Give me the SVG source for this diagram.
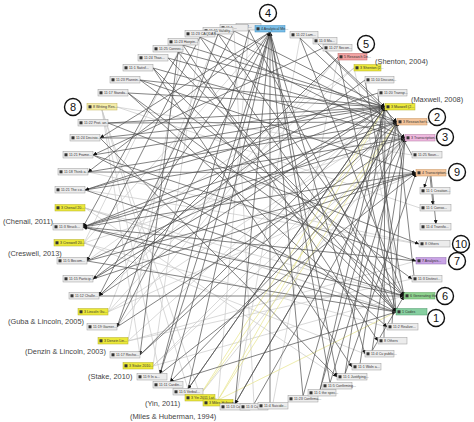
<svg xmlns="http://www.w3.org/2000/svg" width="474" height="422" viewBox="0 0 474 422">
<style>
.nb{fill:#ececec;stroke:#9a9a9a;stroke-width:.5}
.yl{fill:#ebe83a;stroke:#b3ae2a}
.yp{fill:#f4eca8;stroke:#c4b45a}
.bl{fill:#7bbfe8;stroke:#3a8cc0}
.gr{fill:#8ed28e;stroke:#5a9a5a}
.gr2{fill:#86cfa0;stroke:#4f9a6c}
.rd{fill:#f2a3a3;stroke:#c06060}
.pc{fill:#f4c59c;stroke:#c8925e}
.pk{fill:#efb8df;stroke:#b07aa0}
.pu{fill:#caa4e6;stroke:#8f6fb0}
.ic{fill:#333}
.nt{font-family:"Liberation Sans",Arial,sans-serif;font-size:3.6px;fill:#333}
.ann{font-family:"Liberation Sans",Arial,sans-serif;font-size:7.4px;fill:#444}
.cn circle{fill:#fff;stroke:#111;stroke-width:1.4}
.cn text{font-family:"Liberation Sans",Arial,sans-serif;font-size:11px;text-anchor:middle;fill:#111}
.e line{stroke:#4d4d4d;stroke-width:.7}
.l line{stroke:#c9c9c9;stroke-width:.7}
.ly line{stroke:#e6e48a;stroke-width:.7}
</style>
<defs>
<marker id="ah" markerUnits="userSpaceOnUse" markerWidth="4" markerHeight="4" refX="4" refY="2" orient="auto">
<path d="M0,0 L4,2 L0,4 z" fill="#111"/>
</marker>
</defs>
<rect width="474" height="422" fill="#fff"/>
<g id="connectors">
<g class="l">
<line x1="102" y1="110" x2="188" y2="389"/><line x1="102" y1="110" x2="200" y2="395"/><line x1="102" y1="110" x2="160" y2="374"/><line x1="102" y1="110" x2="140" y2="355"/>
<line x1="85" y1="208" x2="404" y2="296"/><line x1="85" y1="208" x2="396" y2="312"/><line x1="84" y1="243" x2="405" y2="138"/><line x1="84" y1="243" x2="387" y2="327"/>
<line x1="108" y1="312" x2="416" y2="173"/><line x1="108" y1="312" x2="397" y2="122"/><line x1="128" y1="341" x2="385" y2="107"/><line x1="128" y1="341" x2="412" y2="279"/>
<line x1="153" y1="366" x2="404" y2="296"/><line x1="153" y1="366" x2="405" y2="138"/><line x1="354" y1="68" x2="87" y2="261"/><line x1="354" y1="68" x2="99" y2="296"/>
<line x1="338" y1="57" x2="117" y2="327"/><line x1="338" y1="57" x2="108" y2="312"/><line x1="270" y1="32" x2="84" y2="243"/><line x1="183" y1="45" x2="128" y2="341"/>
<line x1="200" y1="37" x2="153" y2="366"/><line x1="218" y1="34" x2="108" y2="312"/><line x1="178" y1="52" x2="84" y2="243"/><line x1="396" y1="312" x2="85" y2="208"/>
<line x1="419" y1="244" x2="85" y2="190"/><line x1="416" y1="261" x2="128" y2="341"/><line x1="385" y1="107" x2="93" y2="279"/><line x1="397" y1="122" x2="153" y2="366"/>
<line x1="405" y1="138" x2="200" y2="395"/><line x1="249" y1="30" x2="218" y2="400"/><line x1="234" y1="31" x2="254" y2="404"/><line x1="354" y1="68" x2="404" y2="296"/>
<line x1="338" y1="57" x2="273" y2="403"/><line x1="300" y1="38" x2="235" y2="404"/><line x1="419" y1="244" x2="88" y2="172"/><line x1="84" y1="243" x2="365" y2="354"/>
<line x1="85" y1="208" x2="337" y2="377"/><line x1="117" y1="107" x2="412" y2="155"/><line x1="117" y1="107" x2="420" y2="208"/>
</g>
<g class="ly">
<line x1="200" y1="395" x2="385" y2="107"/><line x1="200" y1="395" x2="397" y2="122"/><line x1="218" y1="400" x2="397" y2="122"/><line x1="218" y1="400" x2="396" y2="312"/><line x1="218" y1="400" x2="385" y2="107"/>
</g>
<g class="e" marker-end="url(#ah)">
<line x1="178" y1="52" x2="396" y2="312"/><line x1="178" y1="52" x2="385" y2="107"/><line x1="168" y1="58" x2="404" y2="296"/><line x1="168" y1="58" x2="397" y2="122"/>
<line x1="153" y1="68" x2="405" y2="138"/><line x1="153" y1="68" x2="396" y2="312"/><line x1="140" y1="80" x2="385" y2="107"/><line x1="140" y1="80" x2="416" y2="173"/>
<line x1="128" y1="93" x2="385" y2="107"/><line x1="128" y1="93" x2="404" y2="296"/><line x1="108" y1="123" x2="397" y2="122"/><line x1="108" y1="123" x2="385" y2="107"/>
<line x1="100" y1="138" x2="405" y2="138"/><line x1="100" y1="138" x2="385" y2="107"/><line x1="93" y1="155" x2="385" y2="107"/><line x1="93" y1="155" x2="396" y2="312"/>
<line x1="88" y1="172" x2="416" y2="173"/><line x1="88" y1="172" x2="397" y2="122"/><line x1="85" y1="190" x2="405" y2="138"/><line x1="85" y1="190" x2="385" y2="107"/>
<line x1="397" y1="122" x2="83" y2="227"/><line x1="405" y1="138" x2="83" y2="227"/><line x1="404" y1="296" x2="83" y2="227"/><line x1="416" y1="173" x2="83" y2="227"/><line x1="385" y1="107" x2="83" y2="227"/>
<line x1="87" y1="261" x2="397" y2="122"/><line x1="87" y1="261" x2="396" y2="312"/><line x1="93" y1="279" x2="416" y2="173"/><line x1="93" y1="279" x2="385" y2="107"/>
<line x1="99" y1="296" x2="385" y2="107"/><line x1="99" y1="296" x2="404" y2="296"/><line x1="117" y1="327" x2="405" y2="138"/><line x1="117" y1="327" x2="270" y2="32"/>
<line x1="140" y1="355" x2="397" y2="122"/><line x1="140" y1="355" x2="385" y2="107"/><line x1="160" y1="374" x2="416" y2="173"/><line x1="160" y1="374" x2="270" y2="32"/>
<line x1="170" y1="382" x2="270" y2="32"/><line x1="170" y1="382" x2="396" y2="312"/><line x1="188" y1="389" x2="385" y2="107"/><line x1="188" y1="389" x2="270" y2="32"/>
<line x1="235" y1="404" x2="270" y2="32"/><line x1="235" y1="404" x2="397" y2="122"/><line x1="254" y1="404" x2="405" y2="138"/><line x1="270" y1="403" x2="270" y2="32"/>
<line x1="303" y1="396" x2="385" y2="107"/><line x1="303" y1="396" x2="270" y2="32"/><line x1="320" y1="390" x2="397" y2="122"/><line x1="320" y1="390" x2="385" y2="107"/>
<line x1="330" y1="383" x2="405" y2="138"/><line x1="330" y1="383" x2="270" y2="32"/><line x1="345" y1="374" x2="385" y2="107"/><line x1="345" y1="374" x2="416" y2="173"/>
<line x1="360" y1="364" x2="397" y2="122"/><line x1="372" y1="351" x2="404" y2="296"/><line x1="372" y1="351" x2="405" y2="138"/><line x1="384" y1="338" x2="385" y2="107"/>
<line x1="392" y1="324" x2="405" y2="138"/><line x1="414" y1="276" x2="397" y2="122"/><line x1="428" y1="176" x2="424" y2="188"/><line x1="430" y1="176" x2="433" y2="205"/>
<line x1="431" y1="176" x2="436" y2="224"/><line x1="412" y1="155" x2="385" y2="107"/><line x1="378" y1="93" x2="396" y2="312"/><line x1="365" y1="80" x2="404" y2="296"/>
<line x1="323" y1="48" x2="385" y2="107"/><line x1="318" y1="44" x2="397" y2="122"/><line x1="300" y1="38" x2="405" y2="138"/><line x1="300" y1="38" x2="404" y2="296"/>
<line x1="249" y1="30" x2="396" y2="312"/><line x1="234" y1="31" x2="385" y2="107"/><line x1="218" y1="34" x2="404" y2="296"/><line x1="218" y1="34" x2="397" y2="122"/>
<line x1="200" y1="37" x2="405" y2="138"/><line x1="200" y1="37" x2="396" y2="312"/><line x1="183" y1="45" x2="385" y2="107"/><line x1="183" y1="45" x2="378" y2="341"/>
<line x1="93" y1="279" x2="270" y2="32"/><line x1="338" y1="57" x2="396" y2="312"/><line x1="87" y1="261" x2="416" y2="173"/><line x1="183" y1="45" x2="83" y2="227"/>
<line x1="178" y1="52" x2="140" y2="355"/><line x1="200" y1="37" x2="87" y2="261"/><line x1="234" y1="31" x2="99" y2="296"/><line x1="385" y1="107" x2="188" y2="389"/>
<line x1="397" y1="122" x2="235" y2="404"/><line x1="405" y1="138" x2="170" y2="382"/><line x1="396" y1="312" x2="83" y2="227"/><line x1="416" y1="261" x2="83" y2="227"/>
<line x1="85" y1="190" x2="404" y2="296"/><line x1="93" y1="155" x2="416" y2="261"/><line x1="108" y1="123" x2="419" y2="244"/><line x1="128" y1="93" x2="387" y2="327"/>
<line x1="140" y1="80" x2="412" y2="279"/><line x1="153" y1="68" x2="352" y2="367"/><line x1="100" y1="138" x2="337" y2="377"/><line x1="270" y1="32" x2="100" y2="138"/>
<line x1="270" y1="32" x2="88" y2="172"/><line x1="270" y1="32" x2="337" y2="377"/><line x1="270" y1="32" x2="365" y2="354"/><line x1="249" y1="30" x2="160" y2="374"/>
<line x1="218" y1="34" x2="117" y2="327"/><line x1="365" y1="80" x2="93" y2="279"/><line x1="378" y1="93" x2="85" y2="190"/><line x1="338" y1="57" x2="99" y2="296"/>
<line x1="323" y1="48" x2="93" y2="155"/>
</g>
</g>
<g id="nodes">
<g id="n-a1"><rect class="nb" x="153" y="45.5" width="30" height="6.5"/><rect class="ic" x="154.5" y="47.3" width="3" height="3"/><text class="nt" x="159" y="50">11:25 Connec...</text></g>
<g id="n-a2"><rect class="nb" x="138" y="54.5" width="30" height="6.5"/><rect class="ic" x="139.5" y="56.3" width="3" height="3"/><text class="nt" x="144" y="59">11:24 Thas...</text></g>
<g id="n-a3"><rect class="nb" x="123" y="64.5" width="30" height="6.5"/><rect class="ic" x="124.5" y="66.3" width="3" height="3"/><text class="nt" x="129" y="69">11:1 Satisf...</text></g>
<g id="n-a4"><rect class="nb" x="110" y="76.5" width="30" height="6.5"/><rect class="ic" x="111.5" y="78.3" width="3" height="3"/><text class="nt" x="116" y="81">11:23 Plannin...</text></g>
<g id="n-a5"><rect class="nb" x="98" y="89.5" width="30" height="6.5"/><rect class="ic" x="99.5" y="91.3" width="3" height="3"/><text class="nt" x="104" y="94">11:17 Standa...</text></g>
<g id="n-8"><rect class="nb yp" x="87" y="103.5" width="30" height="6.5"/><rect class="ic" x="88.5" y="105.3" width="3" height="3"/><text class="nt" x="93" y="108">8 Writing Res...</text></g>
<g id="n-a6"><rect class="nb" x="78" y="119.5" width="30" height="6.5"/><rect class="ic" x="79.5" y="121.3" width="3" height="3"/><text class="nt" x="84" y="124">11:22 Prot. an...</text></g>
<g id="n-a7"><rect class="nb" x="70" y="134.5" width="30" height="6.5"/><rect class="ic" x="71.5" y="136.3" width="3" height="3"/><text class="nt" x="76" y="139">11:24 Decisio...</text></g>
<g id="n-a8"><rect class="nb" x="63" y="151.5" width="30" height="6.5"/><rect class="ic" x="64.5" y="153.3" width="3" height="3"/><text class="nt" x="69" y="156">11:21 Frame...</text></g>
<g id="n-a9"><rect class="nb" x="58" y="168.5" width="30" height="6.5"/><rect class="ic" x="59.5" y="170.3" width="3" height="3"/><text class="nt" x="64" y="173">11:18 Think a...</text></g>
<g id="n-a10"><rect class="nb" x="55" y="186.5" width="30" height="6.5"/><rect class="ic" x="56.5" y="188.3" width="3" height="3"/><text class="nt" x="61" y="191">11:21 The co...</text></g>
<g id="n-chenail"><rect class="nb yl" x="55" y="204.5" width="30" height="6.5"/><rect class="ic" x="56.5" y="206.3" width="3" height="3"/><text class="nt" x="61" y="209">3 Chenail 20...</text></g>
<g id="n-a11"><rect class="nb" x="53" y="223.5" width="30" height="6.5"/><rect class="ic" x="54.5" y="225.3" width="3" height="3"/><text class="nt" x="59" y="228">11:3 Struck...</text></g>
<g id="n-creswell"><rect class="nb yl" x="54" y="239.5" width="30" height="6.5"/><rect class="ic" x="55.5" y="241.3" width="3" height="3"/><text class="nt" x="60" y="244">3 Creswell 20...</text></g>
<g id="n-a12"><rect class="nb" x="57" y="257.5" width="30" height="6.5"/><rect class="ic" x="58.5" y="259.3" width="3" height="3"/><text class="nt" x="63" y="262">11:5 Becom...</text></g>
<g id="n-a13"><rect class="nb" x="63" y="275.5" width="30" height="6.5"/><rect class="ic" x="64.5" y="277.3" width="3" height="3"/><text class="nt" x="69" y="280">11:15 Particip...</text></g>
<g id="n-a14"><rect class="nb" x="69" y="292.5" width="30" height="6.5"/><rect class="ic" x="70.5" y="294.3" width="3" height="3"/><text class="nt" x="75" y="297">11:12 Challe...</text></g>
<g id="n-lincoln"><rect class="nb yl" x="78" y="308.5" width="30" height="6.5"/><rect class="ic" x="79.5" y="310.3" width="3" height="3"/><text class="nt" x="84" y="313">3 Lincoln Gu...</text></g>
<g id="n-a15"><rect class="nb" x="87" y="323.5" width="30" height="6.5"/><rect class="ic" x="88.5" y="325.3" width="3" height="3"/><text class="nt" x="93" y="328">11:19 Garner...</text></g>
<g id="n-denzin"><rect class="nb yl" x="98" y="337.5" width="30" height="6.5"/><rect class="ic" x="99.5" y="339.3" width="3" height="3"/><text class="nt" x="104" y="342">3 Denzin Lin...</text></g>
<g id="n-a16"><rect class="nb" x="110" y="351.5" width="30" height="6.5"/><rect class="ic" x="111.5" y="353.3" width="3" height="3"/><text class="nt" x="116" y="356">11:17 Recho...</text></g>
<g id="n-stake"><rect class="nb yl" x="123" y="362.5" width="30" height="6.5"/><rect class="ic" x="124.5" y="364.3" width="3" height="3"/><text class="nt" x="129" y="367">3 Stake 2010...</text></g>
<g id="n-a17"><rect class="nb" x="137" y="373.5" width="30" height="6.5"/><rect class="ic" x="138.5" y="375.3" width="3" height="3"/><text class="nt" x="143" y="378">11:9 In a...</text></g>
<g id="n-a18"><rect class="nb" x="153" y="381.5" width="30" height="6.5"/><rect class="ic" x="154.5" y="383.3" width="3" height="3"/><text class="nt" x="159" y="386">11:11 Cardin...</text></g>
<g id="n-a19"><rect class="nb" x="173" y="388.5" width="30" height="6.5"/><rect class="ic" x="174.5" y="390.3" width="3" height="3"/><text class="nt" x="179" y="393">11:5 Verbal...</text></g>
<g id="n-yin"><rect class="nb yl" x="185" y="394.5" width="30" height="6.5"/><rect class="ic" x="186.5" y="396.3" width="3" height="3"/><text class="nt" x="191" y="399">3 Yin 2011 Lat...</text></g>
<g id="n-miles"><rect class="nb yl" x="203" y="399.5" width="30" height="6.5"/><rect class="ic" x="204.5" y="401.3" width="3" height="3"/><text class="nt" x="209" y="404">3 Miles Huberm...</text></g>
<g id="n-a20"><rect class="nb" x="220" y="403.5" width="30" height="6.5"/><rect class="ic" x="221.5" y="405.3" width="3" height="3"/><text class="nt" x="226" y="408">11:13 Cost...</text></g>
<g id="n-a21"><rect class="nb" x="240" y="403.5" width="28" height="6.5"/><rect class="ic" x="241.5" y="405.3" width="3" height="3"/><text class="nt" x="246" y="408">11:3 Cu...</text></g>
<g id="n-a22"><rect class="nb" x="258" y="402.5" width="30" height="6.5"/><rect class="ic" x="259.5" y="404.3" width="3" height="3"/><text class="nt" x="264" y="407">11:4 Suicide...</text></g>
<g id="n-a23"><rect class="nb" x="288" y="395.5" width="30" height="6.5"/><rect class="ic" x="289.5" y="397.3" width="3" height="3"/><text class="nt" x="294" y="400">11:23 Confirma...</text></g>
<g id="n-a24"><rect class="nb" x="308" y="389.5" width="28" height="6.5"/><rect class="ic" x="309.5" y="391.3" width="3" height="3"/><text class="nt" x="314" y="394">11:1 the spec...</text></g>
<g id="n-a25"><rect class="nb" x="322" y="382.5" width="30" height="6.5"/><rect class="ic" x="323.5" y="384.3" width="3" height="3"/><text class="nt" x="328" y="387">11:5 Confirming...</text></g>
<g id="n-a26"><rect class="nb" x="337" y="373.5" width="30" height="6.5"/><rect class="ic" x="338.5" y="375.3" width="3" height="3"/><text class="nt" x="343" y="378">11:1 Justifying...</text></g>
<g id="n-a27"><rect class="nb" x="352" y="363.5" width="29" height="6.5"/><rect class="ic" x="353.5" y="365.3" width="3" height="3"/><text class="nt" x="358" y="368">11:1 Woln a...</text></g>
<g id="n-a28"><rect class="nb" x="365" y="350.5" width="29" height="6.5"/><rect class="ic" x="366.5" y="352.3" width="3" height="3"/><text class="nt" x="371" y="355">11:4 Cu public...</text></g>
<g id="n-a29"><rect class="nb" x="378" y="337.5" width="29" height="6.5"/><rect class="ic" x="379.5" y="339.3" width="3" height="3"/><text class="nt" x="384" y="342">8 Others</text></g>
<g id="n-a30"><rect class="nb" x="387" y="323.5" width="31" height="6.5"/><rect class="ic" x="388.5" y="325.3" width="3" height="3"/><text class="nt" x="393" y="328">11:2 Realize...</text></g>
<g id="n-1"><rect class="nb gr2" x="396" y="308.5" width="31" height="6.5"/><rect class="ic" x="397.5" y="310.3" width="3" height="3"/><text class="nt" x="402" y="313">1 Codes</text></g>
<g id="n-6"><rect class="nb gr" x="404" y="292.5" width="31" height="6.5"/><rect class="ic" x="405.5" y="294.3" width="3" height="3"/><text class="nt" x="410" y="297">6 Generating the...</text></g>
<g id="n-a31"><rect class="nb" x="412" y="275.5" width="30" height="6.5"/><rect class="ic" x="413.5" y="277.3" width="3" height="3"/><text class="nt" x="418" y="280">11:3 Distinct...</text></g>
<g id="n-7"><rect class="nb pu" x="416" y="257.5" width="30" height="6.5"/><rect class="ic" x="417.5" y="259.3" width="3" height="3"/><text class="nt" x="422" y="262">7 Analysis...</text></g>
<g id="n-10"><rect class="nb" x="419" y="240.5" width="31" height="6.5"/><rect class="ic" x="420.5" y="242.3" width="3" height="3"/><text class="nt" x="425" y="245">8 Others</text></g>
<g id="n-a33"><rect class="nb" x="420" y="223.5" width="31" height="6.5"/><rect class="ic" x="421.5" y="225.3" width="3" height="3"/><text class="nt" x="426" y="228">11:4 Transfo...</text></g>
<g id="n-a34"><rect class="nb" x="420" y="204.5" width="31" height="6.5"/><rect class="ic" x="421.5" y="206.3" width="3" height="3"/><text class="nt" x="426" y="209">11:1 Conso...</text></g>
<g id="n-a35"><rect class="nb" x="420" y="187.5" width="30" height="6.5"/><rect class="ic" x="421.5" y="189.3" width="3" height="3"/><text class="nt" x="426" y="192">11:1 Creation...</text></g>
<g id="n-9"><rect class="nb pc" x="416" y="169.5" width="30" height="6.5"/><rect class="ic" x="417.5" y="171.3" width="3" height="3"/><text class="nt" x="422" y="174">4 Transcription...</text></g>
<g id="n-a36"><rect class="nb" x="412" y="151.5" width="30" height="6.5"/><rect class="ic" x="413.5" y="153.3" width="3" height="3"/><text class="nt" x="418" y="156">11:25 Soun...</text></g>
<g id="n-3"><rect class="nb pk" x="405" y="134.5" width="30" height="6.5"/><rect class="ic" x="406.5" y="136.3" width="3" height="3"/><text class="nt" x="411" y="139">3 Transcription...</text></g>
<g id="n-2"><rect class="nb pc" x="397" y="118.5" width="30" height="6.5"/><rect class="ic" x="398.5" y="120.3" width="3" height="3"/><text class="nt" x="403" y="123">3 Researcher's...</text></g>
<g id="n-maxwell"><rect class="nb yl" x="385" y="103.5" width="30" height="6.5"/><rect class="ic" x="386.5" y="105.3" width="3" height="3"/><text class="nt" x="391" y="108">3 Maxwell (2...</text></g>
<g id="n-a37"><rect class="nb" x="378" y="89.5" width="29" height="6.5"/><rect class="ic" x="379.5" y="91.3" width="3" height="3"/><text class="nt" x="384" y="94">11:20 Transp...</text></g>
<g id="n-a38"><rect class="nb" x="365" y="76.5" width="29" height="6.5"/><rect class="ic" x="366.5" y="78.3" width="3" height="3"/><text class="nt" x="371" y="81">11:10 Discuss...</text></g>
<g id="n-shenton"><rect class="nb yl" x="354" y="64.5" width="27" height="6.5"/><rect class="ic" x="355.5" y="66.3" width="3" height="3"/><text class="nt" x="360" y="69">3 Shenton (2...</text></g>
<g id="n-5"><rect class="nb rd" x="338" y="53.5" width="29" height="6.5"/><rect class="ic" x="339.5" y="55.3" width="3" height="3"/><text class="nt" x="344" y="58">5 Research De...</text></g>
<g id="n-a39"><rect class="nb" x="323" y="44.5" width="29" height="6.5"/><rect class="ic" x="324.5" y="46.3" width="3" height="3"/><text class="nt" x="329" y="49">11:27 Secon...</text></g>
<g id="n-a40"><rect class="nb" x="313" y="37.5" width="24" height="6.5"/><rect class="ic" x="314.5" y="39.3" width="3" height="3"/><text class="nt" x="319" y="42">11:3 Ma...</text></g>
<g id="n-a41"><rect class="nb" x="290" y="31.5" width="28" height="6.5"/><rect class="ic" x="291.5" y="33.3" width="3" height="3"/><text class="nt" x="296" y="36">11:22 Lam...</text></g>
<g id="n-a42"><rect class="nb" x="236" y="23.5" width="25" height="6.5"/><rect class="ic" x="237.5" y="25.3" width="3" height="3"/><text class="nt" x="242" y="28">11:2...</text></g>
<g id="n-4"><rect class="nb bl" x="255" y="25.5" width="30" height="6.5"/><rect class="ic" x="256.5" y="27.3" width="3" height="3"/><text class="nt" x="261" y="30">4 Analytical Me...</text></g>
<g id="n-a43"><rect class="nb" x="220" y="24.5" width="28" height="6.5"/><rect class="ic" x="221.5" y="26.3" width="3" height="3"/><text class="nt" x="226" y="29">11:1 ...</text></g>
<g id="n-a44"><rect class="nb" x="203" y="27.5" width="30" height="6.5"/><rect class="ic" x="204.5" y="29.3" width="3" height="3"/><text class="nt" x="209" y="32">11:15 Validity...</text></g>
<g id="n-a45"><rect class="nb" x="185" y="30.5" width="30" height="6.5"/><rect class="ic" x="186.5" y="32.3" width="3" height="3"/><text class="nt" x="191" y="35">11:23 CAQDAS...</text></g>
<g id="n-a46"><rect class="nb" x="168" y="38.5" width="30" height="6.5"/><rect class="ic" x="169.5" y="40.3" width="3" height="3"/><text class="nt" x="174" y="43">11:23 Hoepin...</text></g>
</g>
<g id="annotations">
<text class="ann" x="375" y="64">(Shenton, 2004)</text>
<text class="ann" x="411" y="102">(Maxwell, 2008)</text>
<text class="ann" x="3" y="224">(Chenail, 2011)</text>
<text class="ann" x="8" y="256">(Creswell, 2013)</text>
<text class="ann" x="8" y="324">(Guba &amp; Lincoln, 2005)</text>
<text class="ann" x="25" y="354">(Denzin &amp; Lincoln, 2003)</text>
<text class="ann" x="88" y="379">(Stake, 2010)</text>
<text class="ann" x="145" y="406">(Yin, 2011)</text>
<text class="ann" x="130" y="419">(Miles &amp; Huberman, 1994)</text>
</g>
<g id="markers">
<g class="cn"><circle cx="268" cy="13" r="8.5"/><text x="268" y="17">4</text></g>
<g class="cn"><circle cx="366" cy="44" r="8.5"/><text x="366" y="48">5</text></g>
<g class="cn"><circle cx="73" cy="107" r="8.5"/><text x="73" y="111">8</text></g>
<g class="cn"><circle cx="437" cy="117" r="8.5"/><text x="437" y="121">2</text></g>
<g class="cn"><circle cx="445" cy="137" r="8.5"/><text x="445" y="141">3</text></g>
<g class="cn"><circle cx="457" cy="172" r="8.5"/><text x="457" y="176">9</text></g>
<g class="cn"><circle cx="461" cy="244" r="8.5"/><text x="461" y="248">10</text></g>
<g class="cn"><circle cx="457" cy="261" r="8.5"/><text x="457" y="265">7</text></g>
<g class="cn"><circle cx="445" cy="296" r="8.5"/><text x="445" y="300">6</text></g>
<g class="cn"><circle cx="436" cy="318" r="8.5"/><text x="436" y="322">1</text></g>
</g>
</svg>
